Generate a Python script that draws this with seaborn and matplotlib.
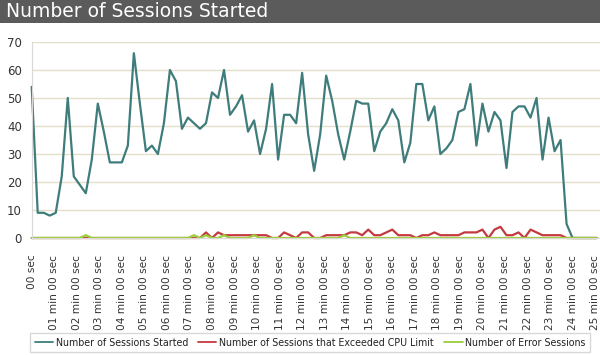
import numpy as np
import pandas as pd
import matplotlib
matplotlib.use("Agg")
import matplotlib.pyplot as plt
import matplotlib.ticker as mticker
from matplotlib.patches import Rectangle
import seaborn as sns

# one sample every 16 seconds
interval_s = 16

started = [54, 9, 9, 8, 9, 22, 50, 22, 19, 16,
           28, 48, 38, 27, 27, 27, 33, 66, 48, 31,
           33, 30, 41, 60, 56, 39, 43, 41, 39, 41,
           52, 50, 60, 44, 47, 51, 38, 42, 30, 39,
           55, 28, 44, 44, 41, 59, 37, 24, 37, 58,
           49, 37, 28, 38, 49, 48, 48, 31, 38, 41,
           46, 42, 27, 34, 55, 55, 42, 47, 30, 32,
           35, 45, 46, 55, 33, 48, 38, 45, 42, 25,
           45, 47, 47, 43, 50, 28, 43, 31, 35, 5,
           0, 0, 0, 0, 0]

cpu_exceeded = [0] * 29 + [2, 0, 2, 1, 1, 1, 1, 1, 1, 1,
                           1, 0, 0, 2, 1, 0, 2, 2, 0, 0,
                           1, 1, 1, 1, 2, 2, 1, 3, 1, 1,
                           2, 3, 1, 1, 1, 0, 1, 1, 2, 1,
                           1, 1, 1, 2, 2, 2, 3, 0, 3, 4,
                           1, 1, 2, 0, 3, 2, 1, 1, 1, 1,
                           0, 0, 0, 0, 0, 0]

errors = [0] * 95
for k in [9, 27, 29, 32, 37, 52]:
    errors[k] = 1

names = ["Number of Sessions Started",
         "Number of Sessions that Exceeded CPU Limit",
         "Number of Error Sessions"]
colors = ["#3f7c7c", "#c43a3e", "#9ccc3c"]

t = np.arange(len(started)) * interval_s
df = pd.concat([
    pd.DataFrame({"t": t, "value": started, "series": names[0]}),
    pd.DataFrame({"t": t, "value": cpu_exceeded, "series": names[1]}),
    pd.DataFrame({"t": t, "value": errors, "series": names[2]}),
])

sns.set_style("white")
plt.rcParams["font.family"] = ["DejaVu Sans"]

fig = plt.figure(figsize=(6, 3.55), dpi=100)
fig.patches.append(Rectangle((0, 1 - 23 / 355), 1, 23 / 355, transform=fig.transFigure,
                             facecolor="#5b5b5b", edgecolor="none", zorder=0))
fig.text(6 / 600, 1 - 11.5 / 355, "Number of Sessions Started", color="white",
         fontsize=13.5, va="center", ha="left")

ax = fig.add_axes([31.7 / 600, 1 - 238 / 355, 1 - 31.7 / 600, 196 / 355])
sns.lineplot(data=df, x="t", y="value", hue="series", hue_order=names,
             palette=colors, linewidth=1.6, ax=ax, legend=False)
for ln in ax.lines:
    ln.set_clip_on(False)

ax.set_xlim(0, 1513)
ax.set_ylim(0, 70)
ax.set_xlabel("")
ax.set_ylabel("")

ax.yaxis.set_major_locator(mticker.MultipleLocator(10))
ax.yaxis.set_minor_locator(mticker.MultipleLocator(2))
ax.xaxis.set_major_locator(mticker.MultipleLocator(60))
ax.xaxis.set_minor_locator(mticker.MultipleLocator(interval_s))
ax.xaxis.set_major_formatter(mticker.FuncFormatter(
    lambda v, p: "00 sec" if v == 0 else f"{int(round(v / 60)):02d} min 00 sec"))

ax.grid(axis="y", which="major", color="#e4dfc8", linewidth=1)
ax.set_axisbelow(True)
for s in ["top", "right"]:
    ax.spines[s].set_visible(False)
ax.spines["left"].set_color("#d8d8d8")
ax.spines["bottom"].set_color("#d8d8d8")

ax.tick_params(axis="x", which="major", length=4, color="#c8c8c8", labelsize=7.6,
               labelrotation=90, labelcolor="#333333", pad=8)
ax.tick_params(axis="x", which="minor", length=2.5, color="#d0d0d0")
ax.tick_params(axis="y", which="major", length=3, color="#c8c8c8", labelsize=8.5,
               labelcolor="#333333", pad=4)
ax.tick_params(axis="y", which="minor", length=2, color="#d8d8d8")
for lab in ax.get_xticklabels():
    lab.set_va("top")

handles = [plt.Line2D([], [], color=c, linewidth=1.3) for c in colors]
leg = fig.legend(handles, names, loc="center", bbox_to_anchor=(0.517, 1 - 342.5 / 355),
                 ncol=3, fontsize=6.85, frameon=True, handlelength=1.9,
                 handletextpad=0.3, columnspacing=1.1, borderpad=0.45,
                 borderaxespad=0, fancybox=False)
leg.get_frame().set_edgecolor("#cfcfcf")
leg.get_frame().set_linewidth(1)
for txt in leg.get_texts():
    txt.set_color("#222222")

fig.savefig("out.png", dpi=100)
